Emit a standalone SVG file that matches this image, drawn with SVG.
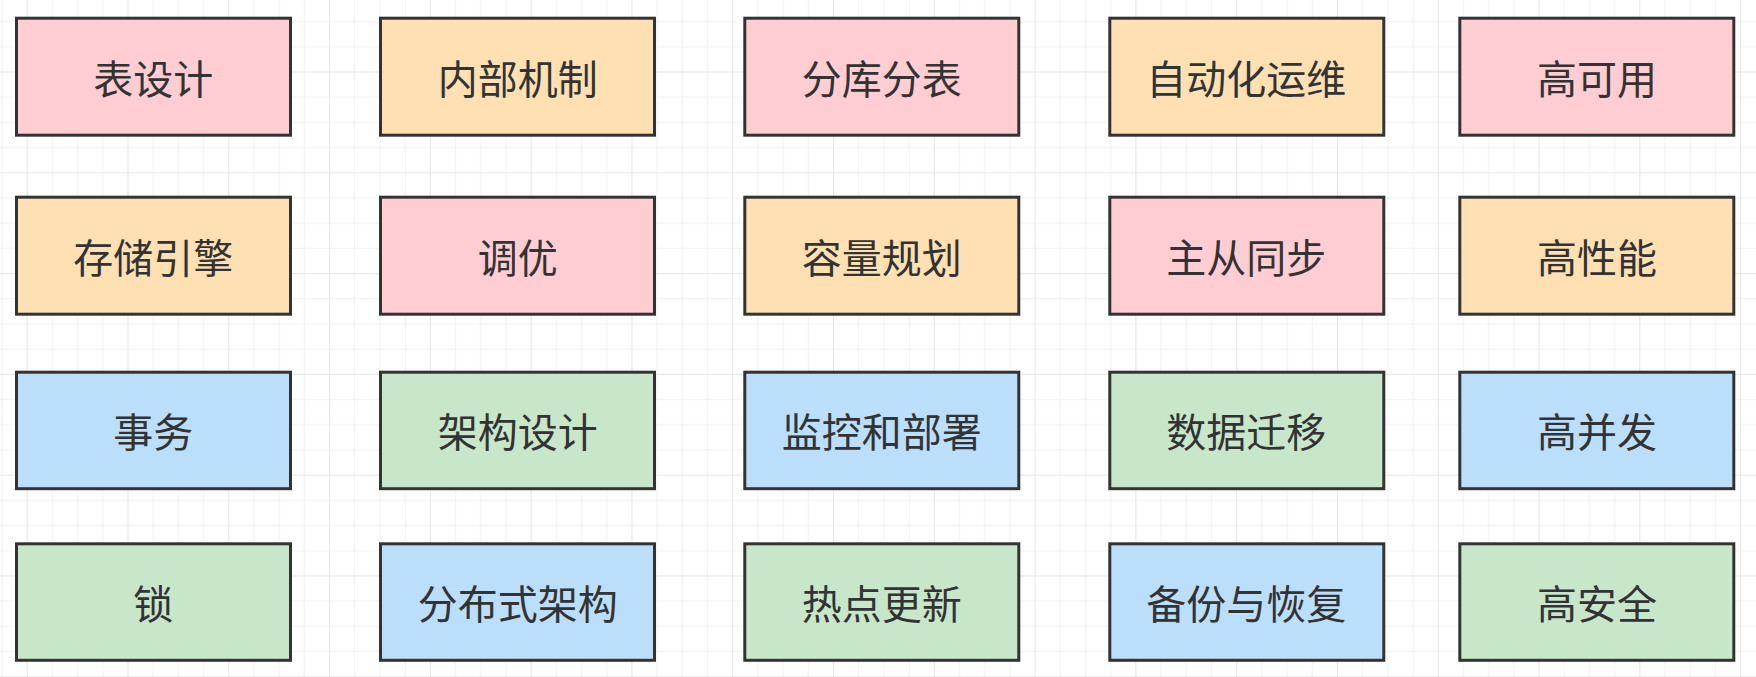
<svg xmlns="http://www.w3.org/2000/svg" width="1756" height="677" viewBox="0 0 1756 677">
<style>
.box{stroke:#333333;stroke-width:3}
.pink{fill:#ffcdd2}
.orange{fill:#ffe0b2}
.blue{fill:#bbdefb}
.green{fill:#c8e6c9}
.lbl{font-family:"Noto Sans CJK SC","Noto Sans",sans-serif;font-size:40px;fill:#333333;text-anchor:middle}
</style>
<defs>
<pattern id="grid" patternUnits="userSpaceOnUse" x="127.5" y="71.5" width="100.79" height="100.79">
<path d="M25.7 0V100.79M50.9 0V100.79M76.1 0V100.79M0 25.7H100.79M0 50.9H100.79M0 76.1H100.79" stroke="#f1f1f1" stroke-width="1" fill="none"/>
<path d="M0.5 0V100.79M0 0.5H100.79" stroke="#e5e5e5" stroke-width="1" fill="none"/>
</pattern>
</defs>
<rect x="0" y="0" width="1756" height="677" fill="#ffffff"/>
<rect x="0" y="0" width="1756" height="677" fill="url(#grid)"/>
<g id="connectors"/>
<!-- Row 1 -->
<g id="n-biaosheji"><rect class="box pink" x="16.5" y="18.2" width="274" height="117"/><text class="lbl" x="153.3" y="93.7">表设计</text></g>
<g id="n-neibujizhi"><rect class="box orange" x="380.5" y="18.2" width="274" height="117"/><text class="lbl" x="517.8" y="93.7">内部机制</text></g>
<g id="n-fenkufenbiao"><rect class="box pink" x="744.8" y="18.2" width="274" height="117"/><text class="lbl" x="881.7" y="93.7">分库分表</text></g>
<g id="n-zidonghuayunwei"><rect class="box orange" x="1109.8" y="18.2" width="274" height="117"/><text class="lbl" x="1246.3" y="93.7">自动化运维</text></g>
<g id="n-gaokeyong"><rect class="box pink" x="1459.8" y="18.2" width="274" height="117"/><text class="lbl" x="1597" y="93.7">高可用</text></g>
<!-- Row 2 -->
<g id="n-cunchuyinqing"><rect class="box orange" x="16.5" y="197.2" width="274" height="117"/><text class="lbl" x="153.3" y="272.7">存储引擎</text></g>
<g id="n-tiaoyou"><rect class="box pink" x="380.5" y="197.2" width="274" height="117"/><text class="lbl" x="517.8" y="272.7">调优</text></g>
<g id="n-rongliangguihua"><rect class="box orange" x="744.8" y="197.2" width="274" height="117"/><text class="lbl" x="881.7" y="272.7">容量规划</text></g>
<g id="n-zhucongtongbu"><rect class="box pink" x="1109.8" y="197.2" width="274" height="117"/><text class="lbl" x="1246.3" y="272.7">主从同步</text></g>
<g id="n-gaoxingneng"><rect class="box orange" x="1459.8" y="197.2" width="274" height="117"/><text class="lbl" x="1597" y="272.7">高性能</text></g>
<!-- Row 3 -->
<g id="n-shiwu"><rect class="box blue" x="16.5" y="372.2" width="274" height="116.5"/><text class="lbl" x="153.3" y="447.3">事务</text></g>
<g id="n-jiagousheji"><rect class="box green" x="380.5" y="372.2" width="274" height="116.5"/><text class="lbl" x="517.8" y="447.3">架构设计</text></g>
<g id="n-jiankonghebushu"><rect class="box blue" x="744.8" y="372.2" width="274" height="116.5"/><text class="lbl" x="881.7" y="447.3">监控和部署</text></g>
<g id="n-shujuqianyi"><rect class="box green" x="1109.8" y="372.2" width="274" height="116.5"/><text class="lbl" x="1246.3" y="447.3">数据迁移</text></g>
<g id="n-gaobingfa"><rect class="box blue" x="1459.8" y="372.2" width="274" height="116.5"/><text class="lbl" x="1597" y="447.3">高并发</text></g>
<!-- Row 4 -->
<g id="n-suo"><rect class="box green" x="16.5" y="543.8" width="274" height="116.5"/><text class="lbl" x="153.3" y="619">锁</text></g>
<g id="n-fenbushijiagou"><rect class="box blue" x="380.5" y="543.8" width="274" height="116.5"/><text class="lbl" x="517.8" y="619">分布式架构</text></g>
<g id="n-rediangengxin"><rect class="box green" x="744.8" y="543.8" width="274" height="116.5"/><text class="lbl" x="881.7" y="619">热点更新</text></g>
<g id="n-beifenyuhuifu"><rect class="box blue" x="1109.8" y="543.8" width="274" height="116.5"/><text class="lbl" x="1246.3" y="619">备份与恢复</text></g>
<g id="n-gaoanquan"><rect class="box green" x="1459.8" y="543.8" width="274" height="116.5"/><text class="lbl" x="1597" y="619">高安全</text></g>
</svg>
